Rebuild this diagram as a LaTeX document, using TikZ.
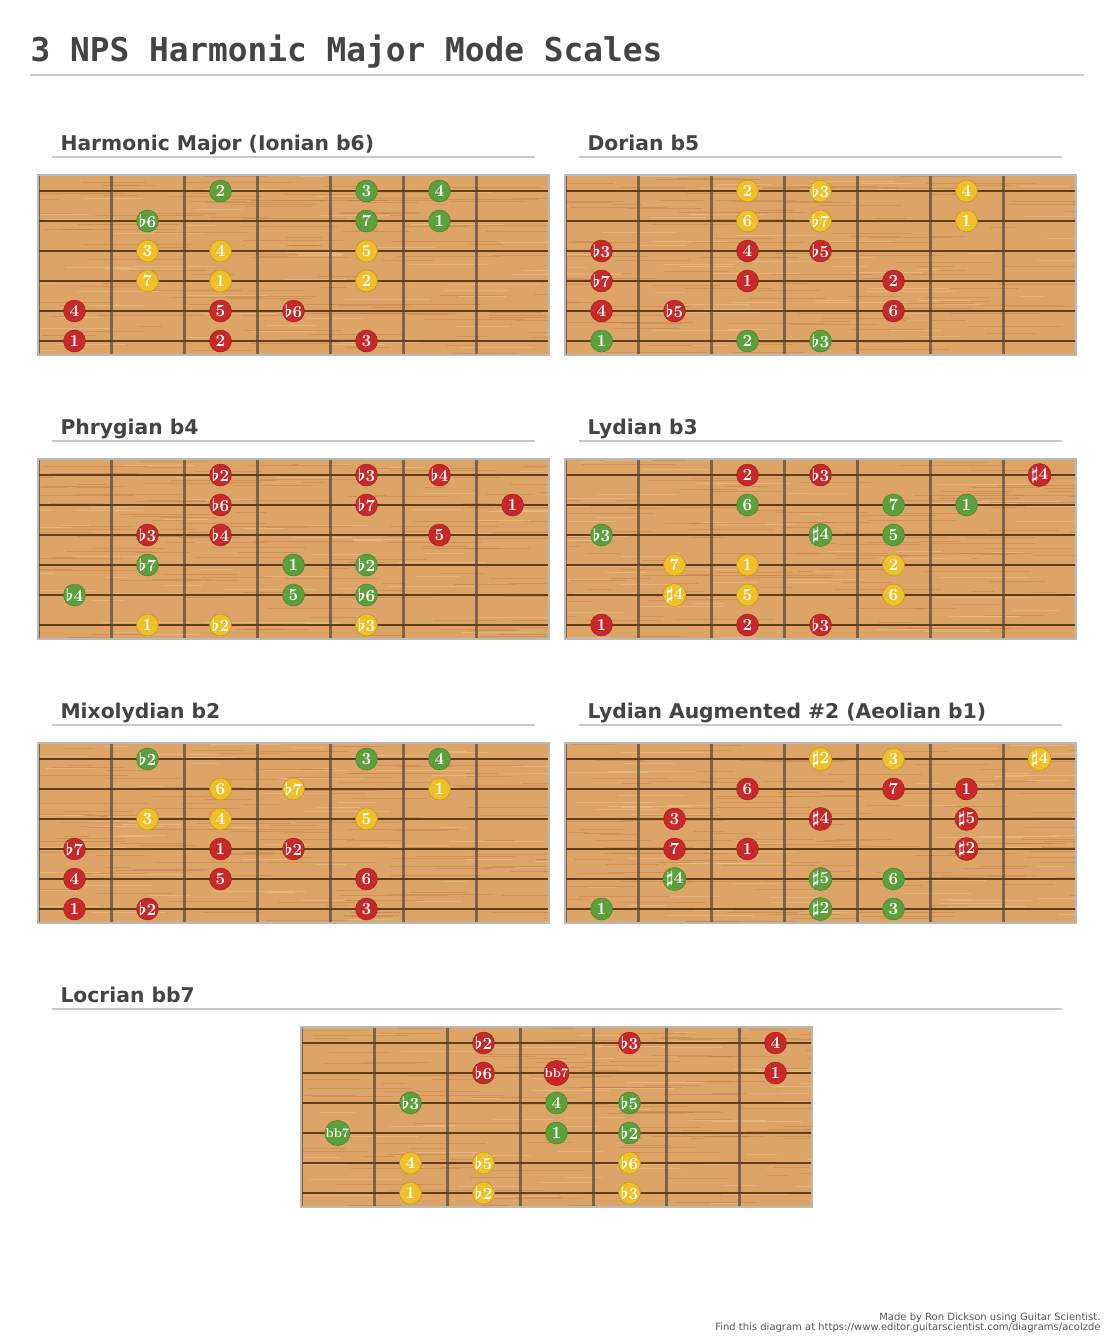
\documentclass[tikz,border=0pt]{standalone}
\usepackage{fontspec}
\newfontfamily\monofont{DejaVu Sans Mono}
\newfontfamily\verdfont{DejaVu Sans}
\usetikzlibrary{positioning}

\definecolor{wood}{RGB}{221,164,104}
\definecolor{woodgrain}{RGB}{186,114,56}
\definecolor{woodlight}{RGB}{240,196,146}
\definecolor{fretcol}{RGB}{100,82,64}
\definecolor{stringcol}{RGB}{100,62,26}
\definecolor{nred}{RGB}{200,40,40}
\definecolor{ngreen}{RGB}{92,160,60}
\definecolor{nyellow}{RGB}{240,192,40}
\definecolor{textgray}{RGB}{68,68,68}
\definecolor{rulegray}{RGB}{200,200,200}
\definecolor{footgray}{RGB}{85,85,85}
\definecolor{edgegray}{RGB}{185,185,185}

\begin{document}
\pgfmathsetseed{7}
\begin{tikzpicture}[x=1pt,y=-1pt,
	note/.style={circle,inner sep=0pt,minimum size=22pt,text=white,
		font=\fontsize{17}{17}\selectfont\bfseries\boldmath},
	heading/.style={anchor=base west,text=textgray,
		font=\verdfont\bfseries\fontsize{20.3}{24}\selectfont},
	heading rule/.style={draw=rulegray,line width=2pt},
	grain/.style={line width=0.6pt,draw=woodgrain,opacity=0.35},
	light grain/.style={line width=0.9pt,draw=woodlight,opacity=0.5},
	fret/.style={line width=3pt,draw=fretcol,opacity=0.8},
	gstring/.style={line width=2.8pt,draw=stringcol},
	board edge/.style={draw=edgegray,line width=1.5pt},
	fretboard/.pic={
		\fill[wood] (0,-0.5333) rectangle (7,5.4667);
		\begin{scope}
			\clip (0,-0.5333) rectangle (7,5.4667);
			\foreach \g in {1,...,120}
				\draw[grain] ({7.5*rnd-0.5},{-0.6+6.1*rnd}) -- ++({0.3+1.2*rnd},0);
			\foreach \g in {1,...,60}
				\draw[light grain] ({7.5*rnd-0.5},{-0.6+6.1*rnd}) -- ++({0.3+1.0*rnd},0);
		\end{scope}
		\foreach \f in {0,...,6}
			\draw[fret] (\f,-0.5333) -- (\f,5.4667);
		\foreach \s in {0,...,5}
			\draw[gstring] (0,\s) -- (7,\s);
		\draw[board edge] (0,-0.5333) rectangle (7,5.4667);
	}]
	
	\fill[white] (0,0) rectangle (1114,1339);
	\useasboundingbox (0,0) rectangle (1114,1339);
	
	% title
	\node[anchor=base west,text=textgray,font=\monofont\bfseries\fontsize{32.8}{36}\selectfont]
		(title) at (27,61) {3 NPS Harmonic Major Mode Scales};
	\draw[heading rule] (30,75) -- (1084,75);
	
	% headings
	\node[heading] (hm-head) at (57,150) {Harmonic Major (Ionian b6)};
	\draw[heading rule] (52,157) -- (535,157);
	\node[heading] (db-head) at (584,150) {Dorian b5};
	\draw[heading rule] (579,157) -- (1062,157);
	\node[heading] (pb-head) at (57,434) {Phrygian b4};
	\draw[heading rule] (52,441) -- (535,441);
	\node[heading] (lb-head) at (584,434) {Lydian b3};
	\draw[heading rule] (579,441) -- (1062,441);
	\node[heading] (mb-head) at (57,718) {Mixolydian b2};
	\draw[heading rule] (52,725) -- (535,725);
	\node[heading] (la-head) at (584,718) {Lydian Augmented \#2 (Aeolian b1)};
	\draw[heading rule] (579,725) -- (1062,725);
	\node[heading] (lc-head) at (57,1002) {Locrian bb7};
	\draw[heading rule] (52,1009) -- (1062,1009);
	
	% Harmonic Major
	\begin{scope}[shift={(38,191)},x=73pt,y=-30pt,name prefix=hm-]
		\pic {fretboard};
		\foreach \s/\f/\col/\lbl in {1/3/ngreen/2, 1/5/ngreen/3, 1/6/ngreen/4,
			2/2/ngreen/{$\flat$6}, 2/5/ngreen/7, 2/6/ngreen/1,
			3/2/nyellow/3, 3/3/nyellow/4, 3/5/nyellow/5,
			4/2/nyellow/7, 4/3/nyellow/1, 4/5/nyellow/2,
			5/1/nred/4, 5/3/nred/5, 5/4/nred/{$\flat$6},
			6/1/nred/1, 6/3/nred/2, 6/5/nred/3}
			\node[note,fill=\col,draw=\col!75!black] (s\s-f\f) at (\f-0.5,\s-1) {\lbl};
	\end{scope}
	
	% Dorian b5
	\begin{scope}[shift={(565,191)},x=73pt,y=-30pt,name prefix=db-]
		\pic {fretboard};
		\foreach \s/\f/\col/\lbl in {1/3/nyellow/2, 1/4/nyellow/{$\flat$3}, 1/6/nyellow/4,
			2/3/nyellow/6, 2/4/nyellow/{$\flat$7}, 2/6/nyellow/1,
			3/1/nred/{$\flat$3}, 3/3/nred/4, 3/4/nred/{$\flat$5},
			4/1/nred/{$\flat$7}, 4/3/nred/1, 4/5/nred/2,
			5/1/nred/4, 5/2/nred/{$\flat$5}, 5/5/nred/6,
			6/1/ngreen/1, 6/3/ngreen/2, 6/4/ngreen/{$\flat$3}}
			\node[note,fill=\col,draw=\col!75!black] (s\s-f\f) at (\f-0.5,\s-1) {\lbl};
	\end{scope}
	
	% Phrygian b4
	\begin{scope}[shift={(38,475)},x=73pt,y=-30pt,name prefix=pb-]
		\pic {fretboard};
		\foreach \s/\f/\col/\lbl in {1/3/nred/{$\flat$2}, 1/5/nred/{$\flat$3}, 1/6/nred/{$\flat$4},
			2/3/nred/{$\flat$6}, 2/5/nred/{$\flat$7}, 2/7/nred/1,
			3/2/nred/{$\flat$3}, 3/3/nred/{$\flat$4}, 3/6/nred/5,
			4/2/ngreen/{$\flat$7}, 4/4/ngreen/1, 4/5/ngreen/{$\flat$2},
			5/1/ngreen/{$\flat$4}, 5/4/ngreen/5, 5/5/ngreen/{$\flat$6},
			6/2/nyellow/1, 6/3/nyellow/{$\flat$2}, 6/5/nyellow/{$\flat$3}}
			\node[note,fill=\col,draw=\col!75!black] (s\s-f\f) at (\f-0.5,\s-1) {\lbl};
	\end{scope}
	
	% Lydian b3
	\begin{scope}[shift={(565,475)},x=73pt,y=-30pt,name prefix=lb-]
		\pic {fretboard};
		\foreach \s/\f/\col/\lbl in {1/3/nred/2, 1/4/nred/{$\flat$3}, 1/7/nred/{$\sharp$4},
			2/3/ngreen/6, 2/5/ngreen/7, 2/6/ngreen/1,
			3/1/ngreen/{$\flat$3}, 3/4/ngreen/{$\sharp$4}, 3/5/ngreen/5,
			4/2/nyellow/7, 4/3/nyellow/1, 4/5/nyellow/2,
			5/2/nyellow/{$\sharp$4}, 5/3/nyellow/5, 5/5/nyellow/6,
			6/1/nred/1, 6/3/nred/2, 6/4/nred/{$\flat$3}}
			\node[note,fill=\col,draw=\col!75!black] (s\s-f\f) at (\f-0.5,\s-1) {\lbl};
	\end{scope}
	
	% Mixolydian b2
	\begin{scope}[shift={(38,759)},x=73pt,y=-30pt,name prefix=mb-]
		\pic {fretboard};
		\foreach \s/\f/\col/\lbl in {1/2/ngreen/{$\flat$2}, 1/5/ngreen/3, 1/6/ngreen/4,
			2/3/nyellow/6, 2/4/nyellow/{$\flat$7}, 2/6/nyellow/1,
			3/2/nyellow/3, 3/3/nyellow/4, 3/5/nyellow/5,
			4/1/nred/{$\flat$7}, 4/3/nred/1, 4/4/nred/{$\flat$2},
			5/1/nred/4, 5/3/nred/5, 5/5/nred/6,
			6/1/nred/1, 6/2/nred/{$\flat$2}, 6/5/nred/3}
			\node[note,fill=\col,draw=\col!75!black] (s\s-f\f) at (\f-0.5,\s-1) {\lbl};
	\end{scope}
	
	% Lydian Augmented #2
	\begin{scope}[shift={(565,759)},x=73pt,y=-30pt,name prefix=la-]
		\pic {fretboard};
		\foreach \s/\f/\col/\lbl in {1/4/nyellow/{$\sharp$2}, 1/5/nyellow/3, 1/7/nyellow/{$\sharp$4},
			2/3/nred/6, 2/5/nred/7, 2/6/nred/1,
			3/2/nred/3, 3/4/nred/{$\sharp$4}, 3/6/nred/{$\sharp$5},
			4/2/nred/7, 4/3/nred/1, 4/6/nred/{$\sharp$2},
			5/2/ngreen/{$\sharp$4}, 5/4/ngreen/{$\sharp$5}, 5/5/ngreen/6,
			6/1/ngreen/1, 6/4/ngreen/{$\sharp$2}, 6/5/ngreen/3}
			\node[note,fill=\col,draw=\col!75!black] (s\s-f\f) at (\f-0.5,\s-1) {\lbl};
	\end{scope}
	
	% Locrian bb7
	\begin{scope}[shift={(301,1043)},x=73pt,y=-30pt,name prefix=lc-]
		\pic {fretboard};
		\foreach \s/\f/\col/\lbl in {1/3/nred/{$\flat$2}, 1/5/nred/{$\flat$3}, 1/7/nred/4,
			2/3/nred/{$\flat$6}, 2/4/nred/{\fontsize{13}{13}\selectfont bb7}, 2/7/nred/1,
			3/2/ngreen/{$\flat$3}, 3/4/ngreen/4, 3/5/ngreen/{$\flat$5},
			4/1/ngreen/{\fontsize{13}{13}\selectfont bb7}, 4/4/ngreen/1, 4/5/ngreen/{$\flat$2},
			5/2/nyellow/4, 5/3/nyellow/{$\flat$5}, 5/5/nyellow/{$\flat$6},
			6/2/nyellow/1, 6/3/nyellow/{$\flat$2}, 6/5/nyellow/{$\flat$3}}
			\node[note,fill=\col,draw=\col!75!black] (s\s-f\f) at (\f-0.5,\s-1) {\lbl};
	\end{scope}
	
	% credits
	\node[anchor=base east,text=footgray,font=\verdfont\fontsize{10}{10}\selectfont]
		(credit) at (1104,1320) {Made by Ron Dickson using Guitar Scientist.};
	\node[anchor=base east,text=footgray,font=\verdfont\fontsize{10}{10}\selectfont]
		(link) at (1104,1330) {Find this diagram at https://www.editor.guitarscientist.com/diagrams/acolzde};
\end{tikzpicture}
\end{document}
